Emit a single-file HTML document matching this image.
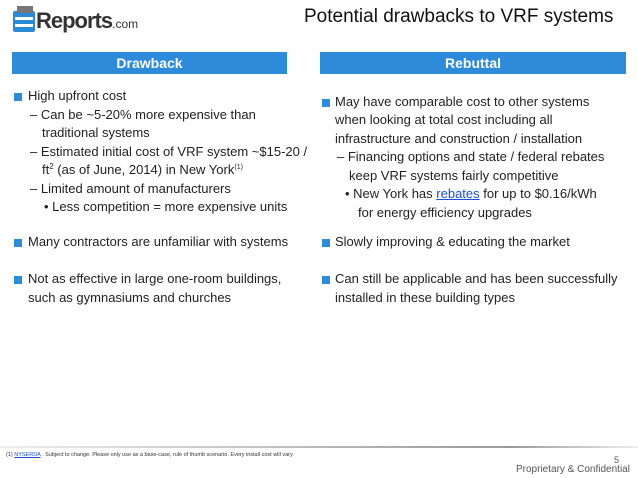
<!DOCTYPE html>
<html><head><meta charset="utf-8"><style>
body{margin:0;width:638px;height:478px;background:#fff;position:relative;overflow:hidden;font-family:"Liberation Sans",sans-serif;color:#222}
.a{position:absolute;white-space:nowrap}
.t{font-size:13px;line-height:18.5px}
.hdr{position:absolute;top:52px;height:22px;background:#2e8bd9;color:#fff;font-weight:bold;font-size:14px;text-align:center;line-height:22px}
.sq{position:absolute;width:8px;height:8px;background:#2e8bd9}
a{color:#1a4ed8;text-decoration:underline}
.sup{position:relative;top:-5px;font-size:8px;line-height:0}
</style></head><body>
<div class="a" style="left:12px;top:4px;height:30px;width:130px">
<svg width="28" height="28" style="position:absolute;left:0;top:1px"><rect x="1" y="6" width="22" height="21" rx="2" fill="#2a8ad6"/><rect x="3" y="12" width="18" height="3" fill="#fff"/><rect x="3" y="19" width="18" height="3" fill="#fff"/><rect x="5" y="1" width="16" height="7" fill="#777"/></svg>
<span class="a" style="left:24px;top:4px;font-size:22px;font-weight:bold;color:#333;letter-spacing:-1px">Reports<span style="font-size:12px;font-weight:normal;letter-spacing:0">.com</span></span></div>
<div class="a" style="left:304px;top:6px;font-size:19px;color:#111">Potential drawbacks to VRF systems</div>
<div class="hdr" style="left:12px;width:275px">Drawback</div>
<div class="hdr" style="left:320px;width:306px">Rebuttal</div>

<div>
<div class="sq" style="left:14px;top:93px"></div><div class="a t" style="left:28px;top:87px">High upfront cost</div>
<div class="a t" style="left:30px;top:106px">– Can be ~5-20% more expensive than</div>
<div class="a t" style="left:42px;top:124px">traditional systems</div>
<div class="a t" style="left:30px;top:143px">– Estimated initial cost of VRF system ~$15-20 /</div>
<div class="a t" style="left:42px;top:161px">ft<span class="sup">2</span> (as of June, 2014) in New York<span class="sup" style="font-size:7px">(1)</span></div>
<div class="a t" style="left:30px;top:180px">– Limited amount of manufacturers</div>
<div class="a t" style="left:44px;top:198px">• Less competition = more expensive units</div>
<div class="sq" style="left:14px;top:239px"></div><div class="a t" style="left:28px;top:233px">Many contractors are unfamiliar with systems</div>
<div class="sq" style="left:14px;top:276px"></div><div class="a t" style="left:28px;top:270px">Not as effective in large one-room buildings,</div>
<div class="a t" style="left:28px;top:289px">such as gymnasiums and churches</div>
</div>

<div>
<div class="sq" style="left:322px;top:99px"></div><div class="a t" style="left:335px;top:93px">May have comparable cost to other systems</div>
<div class="a t" style="left:335px;top:111px">when looking at total cost including all</div>
<div class="a t" style="left:335px;top:130px">infrastructure and construction / installation</div>
<div class="a t" style="left:337px;top:148px">– Financing options and state / federal rebates</div>
<div class="a t" style="left:349px;top:167px">keep VRF systems fairly competitive</div>
<div class="a t" style="left:345px;top:185px">• New York has <a>rebates</a> for up to $0.16/kWh</div>
<div class="a t" style="left:358px;top:204px">for energy efficiency upgrades</div>
<div class="sq" style="left:322px;top:239px"></div><div class="a t" style="left:335px;top:233px">Slowly improving &amp; educating the market</div>
<div class="sq" style="left:322px;top:276px"></div><div class="a t" style="left:335px;top:270px">Can still be applicable and has been successfully</div>
<div class="a t" style="left:335px;top:289px">installed in these building types</div>
</div>

<div class="a" style="left:0;top:446px;width:638px;height:2px;background:linear-gradient(90deg,#eee,#999 80%,#eee)"></div>
<div class="a" style="left:6px;top:452px;font-size:5.5px;color:#333">(1) <a>NYSERDA</a> . Subject to change. Please only use as a base-case, rule of thumb scenario. Every install cost will vary.</div>
<div class="a" style="left:614px;top:455px;font-size:9px;color:#555">5</div>
<div class="a" style="left:516px;top:464px;font-size:10px;color:#555">Proprietary &amp; Confidential</div>
</body></html>
